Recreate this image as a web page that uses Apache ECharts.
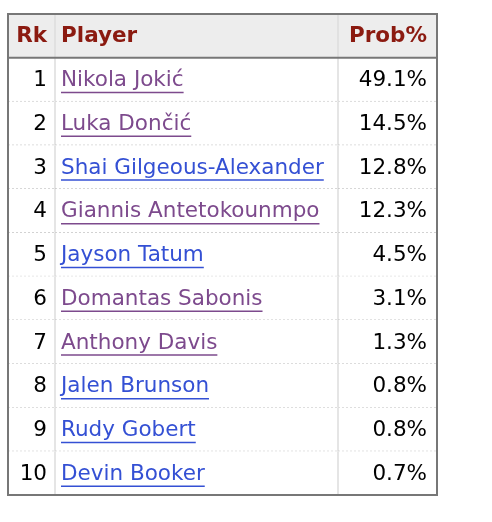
<!DOCTYPE html>
<html>
<head>
<meta charset="utf-8">
<script src="https://cdn.jsdelivr.net/npm/echarts@6/dist/echarts.min.js"></script>
<style>html,body{margin:0;padding:0;background:#fff}#chart{width:492px;height:522px}</style>
</head>
<body>
<div id="chart"></div>
<script>
// 表格数据
const headers = ['Rk', 'Player', 'Prob%'];
const ranks = ['1', '2', '3', '4', '5', '6', '7', '8', '9', '10'];
const players = ['Nikola Jokić', 'Luka Dončić', 'Shai Gilgeous-Alexander', 'Giannis Antetokounmpo',
  'Jayson Tatum', 'Domantas Sabonis', 'Anthony Davis', 'Jalen Brunson', 'Rudy Gobert', 'Devin Booker'];
const probs = ['49.1%', '14.5%', '12.8%', '12.3%', '4.5%', '3.1%', '1.3%', '0.8%', '0.8%', '0.7%'];
const visited = [true, true, false, true, false, true, true, false, false, false];
const colEdges = [0, 47, 330, 429];
const colAlign = ['right', 'left', 'right'];

const FONT = '21.5px "DejaVu Sans"';
const measure = document.createElement('canvas').getContext('2d');
function textWidth(t, font) { measure.font = font; return measure.measureText(t).width; }

const rowNames = ['head'].concat(ranks);
const cells = [];
headers.forEach((h, c) => cells.push([c, 0, h]));
ranks.forEach((r, i) => {
  cells.push([0, i + 1, r]);
  cells.push([1, i + 1, players[i]]);
  cells.push([2, i + 1, probs[i]]);
});

function renderItem(params, api) {
  const c = api.value(0), r = api.value(1), text = cells[params.dataIndex][2];
  const x0 = api.coord([colEdges[c], r])[0];
  const x1 = api.coord([colEdges[c + 1], r])[0];
  const cy = api.coord([0, r])[1];
  const h = api.size([0, 1])[1];
  const y0 = cy - h / 2;
  const head = r === 0;
  const children = [];
  children.push({ type: 'rect', shape: { x: x0, y: y0, width: x1 - x0, height: h },
    style: { fill: head ? '#ededed' : '#fff' } });
  if (c > 0) children.push({ type: 'line', shape: { x1: x0, y1: y0, x2: x0, y2: y0 + h },
    style: { stroke: '#dddddd', lineWidth: 1.5 } });
  if (!head && r < ranks.length) children.push({ type: 'line', shape: { x1: x0, y1: y0 + h, x2: x1, y2: y0 + h },
    style: { stroke: '#bbbbbb', lineWidth: 1, lineDash: [2, 2] } });
  const font = head ? 'bold ' + FONT : FONT;
  const align = head && c === 2 ? 'right' : (head && c === 1 ? 'left' : colAlign[c]);
  const tx = align === 'left' ? x0 + 6 : x1 - (c === 2 ? 10 : 8);
  let color = '#000';
  if (head) color = '#8b1a10';
  else if (c === 1) color = visited[r - 1] ? '#7d4a8d' : '#3450d4';
  children.push({ type: 'text', x: tx, y: cy + 1,
    style: { text: text, font: font, fill: color, align: align, verticalAlign: 'middle' } });
  if (!head && c === 1) {
    const w = textWidth(text, font);
    children.push({ type: 'line', shape: { x1: tx, y1: cy + 13, x2: tx + w, y2: cy + 13 },
      style: { stroke: color, lineWidth: 1.5 } });
  }
  return { type: 'group', children: children };
}

const chart = echarts.init(document.getElementById('chart'), null, { renderer: 'canvas' });
chart.setOption({
  animation: false,
  grid: { left: 8, right: 55, top: 14, bottom: 27 },
  xAxis: { type: 'value', min: 0, max: 429, show: false },
  yAxis: { type: 'category', data: rowNames, inverse: true, show: false },
  series: [{
    type: 'custom',
    renderItem: renderItem,
    data: cells.map(d => [d[0], d[1]]),
    encode: { x: 0, y: 1 }
  }],
  graphic: [
    { type: 'rect', shape: { x: 8, y: 14, width: 429, height: 481 },
      style: { fill: 'none', stroke: '#777', lineWidth: 2 }, z: 100 },
    { type: 'line', shape: { x1: 8, y1: 14 + 481 / 11, x2: 437, y2: 14 + 481 / 11 },
      style: { stroke: '#777', lineWidth: 2 }, z: 100 }
  ]
});
</script>
</body>
</html>
